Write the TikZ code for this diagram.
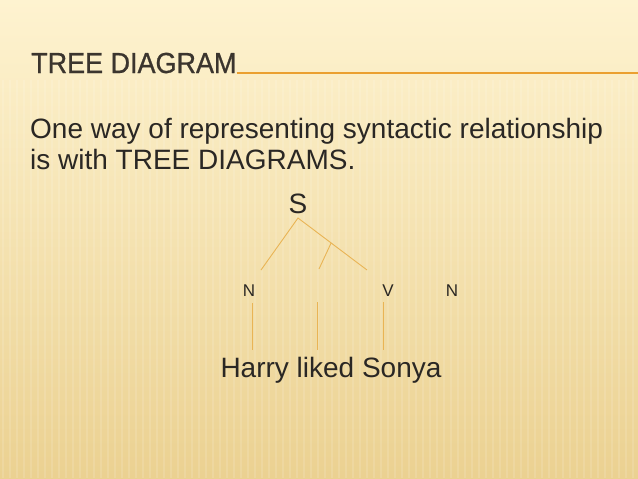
\documentclass[tikz,border=0pt]{standalone}
\usepackage{fontspec}
\setmainfont{Liberation Sans}
\newfontfamily\titlefont[FakeStretch=0.93,FakeBold=0.8]{Liberation Sans}
\usepackage{tikz}
\usetikzlibrary{calc}

\definecolor{bgtop}{HTML}{FEF3D0}
\definecolor{bgbot}{HTML}{EBD191}
\definecolor{titlecol}{HTML}{3B352E}
\definecolor{textcol}{HTML}{2A2724}
\definecolor{rulecol}{HTML}{EBA030}
\definecolor{treecol}{HTML}{E9B455}

\begin{document}
\begin{tikzpicture}[x=1pt,y=-1pt,
	every node/.style={inner sep=0pt,text=textcol},
	branch/.style={treecol,line width=0.9pt},
	big/.style={font=\fontsize{28}{32}\selectfont},
	small/.style={font=\fontsize{17}{20}\selectfont}]
	% background
	\shade[top color=bgtop,bottom color=bgbot] (0,0) rectangle (638,478);
	\foreach \x in {3,10,...,637}
		\draw[white,opacity=0.12,line width=2pt] (\x,80) -- (\x,478);
	\useasboundingbox (0,0) rectangle (638,478);

	% heading
	\node[anchor=base west,text=titlecol,font=\titlefont\fontsize{29}{32}\selectfont] (title) at (31,73) {TREE DIAGRAM};
	\path (638,73) coordinate (ruleend);
	\draw[rulecol,line width=1.4pt] (title.base east) -- (ruleend);

	% text
	\node[big,anchor=base west] (line1) at (30,138) {One way of representing syntactic relationship};
	\node[big,anchor=base west] (line2) at (30,169) {is with TREE DIAGRAMS.};

	% tree
	\node[big,anchor=base] (S) at (298,213) {S};
	\node[small,anchor=base] (nl) at (249,296) {N};
	\node[small,anchor=base] (v) at (388,296) {V};
	\node[small,anchor=base] (nr) at (452,296) {N};
	\node[big,anchor=base] (words) at (331,377) {Harry liked Sonya};

	\path (298,218) coordinate (top);
	\path (261,270) coordinate (leftend);
	\path (367,270) coordinate (rightend);
	\path ($(top)!0.48!(rightend)$) coordinate (fork);
	\path (319,269) coordinate (midend);
	\draw[branch] (leftend) -- (top) -- (rightend);
	\draw[branch] (fork) -- (midend);

	\path (252,303) coordinate (h1); \path (252,350) coordinate (h2);
	\path (317,302) coordinate (l1); \path (317,350) coordinate (l2);
	\path (383,302) coordinate (s1); \path (383,350) coordinate (s2);
	\draw[branch] (h1) -- (h2);
	\draw[branch] (l1) -- (l2);
	\draw[branch] (s1) -- (s2);
\end{tikzpicture}
\end{document}
